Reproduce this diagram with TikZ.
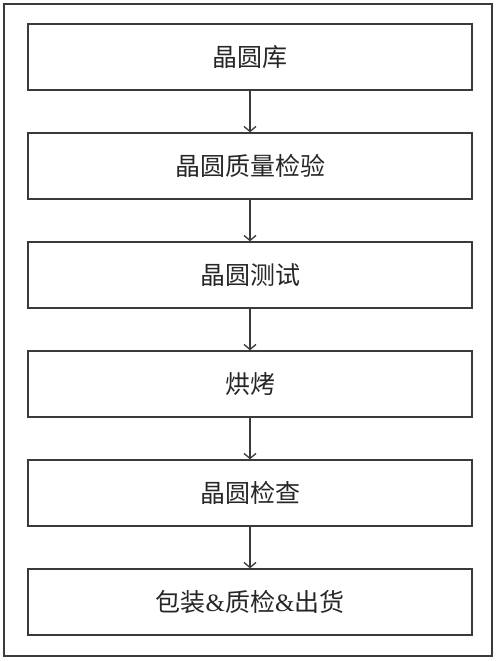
\documentclass[tikz,border=0pt]{standalone}
\usepackage{fontspec}
\newfontfamily\cjk{Noto Sans CJK SC}
\newfontfamily\amp{Liberation Serif}
\usetikzlibrary{arrows.meta}
\definecolor{ln}{HTML}{3A3A3A}
\begin{document}
\begin{tikzpicture}[x=1pt,y=-1pt,
  stepbox/.style={draw=ln,line width=1.4pt,minimum width=444pt,minimum height=66pt,inner sep=0pt,font=\cjk\fontsize{25}{30}\selectfont,text=black!85},
  flow/.style={draw=ln,line width=1.3pt,-{Straight Barb[length=5pt,width=12pt,line width=1.3pt]}}]
\useasboundingbox (0,0) rectangle (496,661);
\draw[ln,line width=1.8pt] (4,4) rectangle (492,656);
\node[stepbox] (b1) at (250,57) {晶圆库};
\node[stepbox] (b2) at (250,166) {晶圆质量检验};
\node[stepbox] (b3) at (250,275) {晶圆测试};
\node[stepbox] (b4) at (250,384) {烘烤};
\node[stepbox] (b5) at (250,493) {晶圆检查};
\node[stepbox] (b6) at (250,602) {包装{\amp\&}质检{\amp\&}出货};
\draw[flow] (b1) -- (b2);
\draw[flow] (b2) -- (b3);
\draw[flow] (b3) -- (b4);
\draw[flow] (b4) -- (b5);
\draw[flow] (b5) -- (b6);
\end{tikzpicture}
\end{document}
